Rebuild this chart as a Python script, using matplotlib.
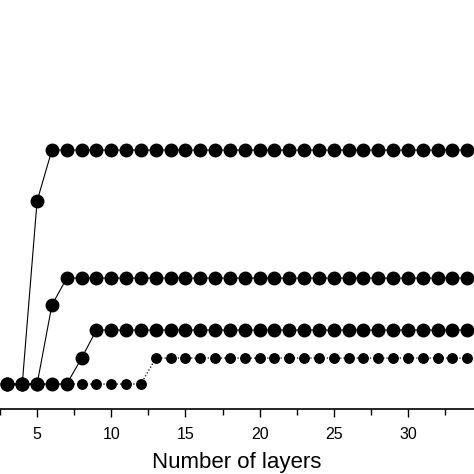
import matplotlib
matplotlib.use("Agg")
import matplotlib.pyplot as plt
from matplotlib.ticker import MultipleLocator

plt.rcParams['font.family'] = ['Liberation Sans', 'DejaVu Sans']

layers = list(range(3, 35))
def series(jump_at, mid, level):
    ys = []
    for x in layers:
        if x < jump_at:
            ys.append(0.0)
        elif x == jump_at and mid is not None:
            ys.append(mid)
        else:
            ys.append(level)
    return ys

s1 = series(5, 18.3, 23.4)
s2 = series(6, 7.9, 10.6)
s3 = series(8, 2.6, 5.4)
s4 = series(13, None, 2.6)

fig = plt.figure(figsize=(4.74, 4.74), dpi=100)
ax = fig.add_axes([0, 0.137, 1, 0.863])
for ys in (s1, s2, s3):
    ax.plot(layers, ys, '-', color='black', lw=0.8, marker='o', ms=9)
ax.plot(layers, s4, ':', color='black', lw=0.9, marker='o', ms=6.8)

ax.set_xlim(2.5, 34.45)
ax.set_ylim(-2.5, 38.4)
for s in ('left', 'top', 'right'):
    ax.spines[s].set_visible(False)
ax.spines['bottom'].set_linewidth(1.2)
ax.set_yticks([])
ax.xaxis.set_major_locator(MultipleLocator(5))
ax.xaxis.set_minor_locator(MultipleLocator(2.5))
ax.tick_params(axis='x', which='major', length=6, width=1, labelsize=11.5, pad=7, direction='out')
ax.tick_params(axis='x', which='minor', length=4, width=1, direction='out')
ax.set_xlabel('Number of layers', fontsize=16, labelpad=7)
fig.savefig('out.png', dpi=100)
